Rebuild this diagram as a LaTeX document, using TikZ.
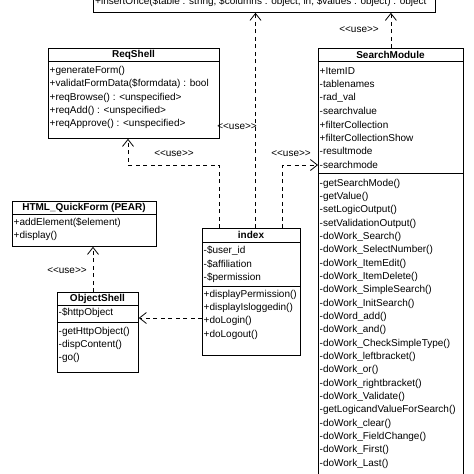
\documentclass[tikz,border=0pt]{standalone}
\usepackage{fontspec}
\setmainfont{Liberation Sans}
\usetikzlibrary{arrows.meta,calc}
\newcommand{\usestereo}{<{}<use>{}>}
\begin{document}
\begin{tikzpicture}[x=1pt,y=-1pt,
  cls/.style={draw, line width=0.8pt, inner sep=0pt, anchor=north west},
  ttl/.style={font=\fontsize{10}{12}\selectfont\bfseries, inner sep=0pt},
  row/.style={font=\fontsize{10}{12}\selectfont, inner sep=0pt, anchor=west},
  lbl/.style={font=\fontsize{10}{12}\selectfont, inner sep=0pt},
  sep/.style={line width=0.8pt},
  dep/.style={line width=0.8pt, dash pattern=on 4pt off 3.5pt, -{Straight Barb[length=7pt,width=11pt]}}]
\useasboundingbox (0,0) rectangle (474,474);
\clip (0,0) rectangle (474,474);
\fill[white] (0,0) rectangle (474,474);

% top class (cut off)
\node[cls, minimum width=342pt, minimum height=32pt] (top) at (93,-20) {};
\node[row] (top1) at (95,1.5) {+insertOnce(\$table : string, \$columns : object, in, \$values : object) : object};

% ReqShell
\node[cls, minimum width=171pt, minimum height=90pt] (req) at (48,48) {};
\node[ttl] (reqT) at (133.5,54.5) {ReqShell};
\draw[sep] ($(req.north west)+(0,13)$) -- ($(req.north east)+(0,13)$);
\foreach \t [count=\i] in {+generateForm(), +validatFormData(\$formdata) : bool, +reqBrowse() : <unspecified>, +reqAdd() : <unspecified>, +reqApprove() : <unspecified>}
  \node[row] (req\i) at (49.5,{71+13.3*(\i-1)}) {\t};

% SearchModule
\node[cls, minimum width=145pt, minimum height=450pt] (search) at (318,48) {};
\node[ttl] (searchT) at (390.5,54.5) {SearchModule};
\draw[sep] ($(search.north west)+(0,13)$) -- ($(search.north east)+(0,13)$);
\draw[sep] ($(search.north west)+(0,125)$) -- ($(search.north east)+(0,125)$);
\foreach \t [count=\i] in {+ItemID, -tablenames, -rad\_val, -searchvalue, +filterCollection, +filterCollectionShow, -resultmode, -searchmode}
  \node[row] (sa\i) at (319.5,{71+13.4*(\i-1)}) {\t};
\foreach \t [count=\i] in {-getSearchMode(), -getValue(), -setLogicOutput(), -setValidationOutput(), -doWork\_Search(), -doWork\_SelectNumber(), -doWork\_ItemEdit(), -doWork\_ItemDelete(), -doWork\_SimpleSearch(), -doWork\_InitSearch(), -doWord\_add(), -doWork\_and(), -doWork\_CheckSimpleType(), -doWork\_leftbracket(), -doWork\_or(), -doWork\_rightbracket(), -doWork\_Validate(), -getLogicandValueForSearch(), -doWork\_clear(), -doWork\_FieldChange(), -doWork\_First(), -doWork\_Last()}
  \node[row] (sm\i) at (319.5,{183.5+13.33*(\i-1)}) {\t};

% index
\node[cls, minimum width=98pt, minimum height=127pt] (index) at (202,228) {};
\node[ttl] (indexT) at (251,235) {index};
\draw[sep] ($(index.north west)+(0,14)$) -- ($(index.north east)+(0,14)$);
\draw[sep] ($(index.north west)+(0,58)$) -- ($(index.north east)+(0,58)$);
\foreach \t [count=\i] in {-\$user\_id, -\$affiliation, -\$permission}
  \node[row] (ia\i) at (203.5,{251+13.2*(\i-1)}) {\t};
\foreach \t [count=\i] in {+displayPermission(), +displayIsloggedin(), +doLogin(), +doLogout()}
  \node[row] (im\i) at (203.5,{295+13.2*(\i-1)}) {\t};

% HTML_QuickForm
\node[cls, minimum width=144pt, minimum height=45pt] (html) at (12,201) {};
\node[ttl] (htmlT) at (84,207.5) {HTML\_QuickForm (PEAR)};
\draw[sep] ($(html.north west)+(0,13)$) -- ($(html.north east)+(0,13)$);
\node[row] (h1) at (13.5,223) {+addElement(\$element)};
\node[row] (h2) at (13.5,236) {+display()};

% ObjectShell
\node[cls, minimum width=81pt, minimum height=80pt] (obj) at (57,292) {};
\node[ttl] (objT) at (97.5,298.5) {ObjectShell};
\draw[sep] ($(obj.north west)+(0,13)$) -- ($(obj.north east)+(0,13)$);
\draw[sep] ($(obj.north west)+(0,30)$) -- ($(obj.north east)+(0,30)$);
\node[row] (oa1) at (58.5,313) {-\$httpObject};
\foreach \t [count=\i] in {-getHttpObject(), -dispContent(), -go()}
  \node[row] (om\i) at (58.5,{332+13*(\i-1)}) {\t};

% connectors
\coordinate (mid) at (0,165);
\coordinate (iA) at ($(index.north west)+(17,0)$);
\coordinate (iB) at ($(index.north west)+(53.5,0)$);
\coordinate (iC) at ($(index.north west)+(80.5,0)$);
\coordinate (rA) at ($(req.south west)+(80,0)$);
\coordinate (oA) at ($(obj.north west)+(36,0)$);
\coordinate (iD) at (index.west |- 0,318);

\draw[dep] (iB) -- (iB |- top.south);
\draw[dep] (search.north) -- (search.north |- top.south);
\draw[dep] (iA) |- (mid -| rA) -- (rA);
\draw[dep] (iC) |- (mid -| search.west);
\draw[dep] (oA) -- (oA |- html.south);
\draw[dep] (iD) -- (iD -| obj.east);

% labels
\node[lbl] (u1) at (359,30) {\usestereo};
\node[lbl] (u2) at (237,127) {\usestereo};
\node[lbl] (u3) at (174,154) {\usestereo};
\node[lbl] (u4) at (291,154) {\usestereo};
\node[lbl] (u5) at (67,271) {\usestereo};
\end{tikzpicture}
\end{document}
